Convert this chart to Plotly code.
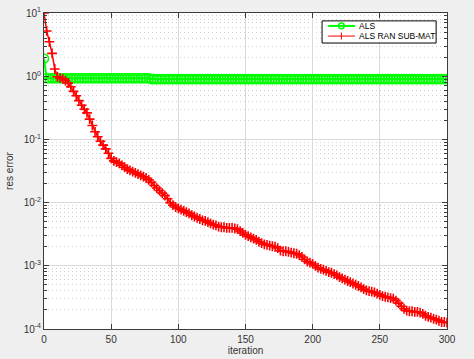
import plotly.graph_objects as go

# iterations sampled every 2 steps
iterations = list(range(0, 301, 2))

als_ran_submat = [
    10, 5.2, 3.5, 2.3, 1.3, 0.98, 0.93, 0.91, 0.85, 0.78,
    0.68, 0.575, 0.49, 0.41, 0.347, 0.30, 0.263, 0.209, 0.166, 0.132,
    0.110, 0.0933, 0.0813, 0.0708, 0.0603, 0.0501, 0.0457, 0.0437, 0.0417, 0.0389,
    0.0363, 0.0339, 0.0324, 0.0309, 0.0295, 0.0282, 0.0269, 0.0257, 0.0245, 0.0229,
    0.0209, 0.0186, 0.0170, 0.0155, 0.0141, 0.0129, 0.0115, 0.0100, 0.00912, 0.00851,
    0.00813, 0.00776, 0.00741, 0.00708, 0.00676, 0.00631, 0.00603, 0.00575, 0.00550, 0.00525,
    0.00513, 0.00490, 0.00468, 0.00447, 0.00437, 0.00417, 0.00407, 0.00407, 0.00398, 0.00398,
    0.00398, 0.00389, 0.00380, 0.00355, 0.00331, 0.00309, 0.00295, 0.00282, 0.00269, 0.00257,
    0.00240, 0.00229, 0.00219, 0.00214, 0.00209, 0.00204, 0.00200, 0.00191, 0.00174, 0.00170,
    0.00170, 0.00166, 0.00162, 0.00158, 0.00155, 0.00148, 0.00138, 0.00126, 0.00117, 0.00112,
    0.00107, 0.00100, 0.000933, 0.000891, 0.000871, 0.000832, 0.000794, 0.000776, 0.000741, 0.000708,
    0.000661, 0.000631, 0.000603, 0.000575, 0.000550, 0.000525, 0.000501, 0.000479, 0.000457, 0.000427,
    0.000407, 0.000398, 0.000389, 0.000380, 0.000363, 0.000347, 0.000331, 0.000324, 0.000316, 0.000309,
    0.000302, 0.000282, 0.000257, 0.000229, 0.000209, 0.000195, 0.000191, 0.000191, 0.000186, 0.000186,
    0.000182, 0.000174, 0.000162, 0.000155, 0.000151, 0.000145, 0.000141, 0.000135, 0.000129, 0.000129,
    0.000126,
]

als = [1.9] + [0.93] * 39 + [0.90] * 111

series_names = ["ALS", "ALS RAN SUB-MAT"]
series_colors = ["#00ff00", "#ff0000"]

x_ticks = [0, 50, 100, 150, 200, 250, 300]
y_ticks = [1e-4, 1e-3, 1e-2, 1e-1, 1, 10]
y_ticktext = ["10<sup>-4</sup>", "10<sup>-3</sup>", "10<sup>-2</sup>",
              "10<sup>-1</sup>", "10<sup>0</sup>", "10<sup>1</sup>"]

FONT = "Liberation Sans, Arial, sans-serif"

fig = go.Figure()
fig.add_trace(go.Scatter(
    x=iterations, y=als, name=series_names[0], mode="lines+markers",
    showlegend=False,
    line=dict(color=series_colors[0], width=2),
    marker=dict(symbol="circle-open", size=9, color=series_colors[0],
                line=dict(color=series_colors[0], width=1.6)),
))
fig.add_trace(go.Scatter(
    x=iterations, y=als_ran_submat, name=series_names[1], mode="lines+markers",
    showlegend=False,
    line=dict(color=series_colors[1], width=1.5),
    marker=dict(symbol="cross-thin", size=7, color=series_colors[1],
                line=dict(color=series_colors[1], width=1.6)),
))

axis_common = dict(
    showline=True, linecolor="#3c3c3c", linewidth=1, mirror="ticks",
    ticks="inside", ticklen=5, tickcolor="#3c3c3c",
    zeroline=False, gridcolor="#d9d9d9", gridwidth=1,
    automargin=False,
    tickfont=dict(family=FONT, size=10, color="#333333"),
)

fig.update_xaxes(
    range=[0, 300], tickvals=x_ticks, ticklabelstandoff=1,
    title=dict(text="iteration", standoff=0,
               font=dict(family=FONT, size=10, color="#333333")),
    **axis_common,
)
fig.update_yaxes(
    type="log", range=[-4, 1], tickvals=y_ticks, ticktext=y_ticktext,
    title=dict(text="res error", standoff=8,
               font=dict(family=FONT, size=10, color="#333333")),
    minor=dict(dtick="D1", showgrid=True, gridcolor="#d0d0d0", griddash="1px,3px",
               ticks="inside", ticklen=3, tickcolor="#3c3c3c"),
    **axis_common,
)

# legend box (drawn in paper coordinates, like the MATLAB legend)
shapes = [
    dict(type="rect", xref="paper", yref="paper", x0=0.690, x1=0.973, y0=0.905, y1=0.975,
         line=dict(color="#000000", width=1), fillcolor="#ffffff", layer="above"),
    dict(type="line", xref="paper", yref="paper", x0=0.705, x1=0.772, y0=0.959, y1=0.959,
         line=dict(color=series_colors[0], width=2), layer="above"),
    dict(type="circle", xref="paper", yref="paper", x0=0.731, x1=0.745, y0=0.950, y1=0.968,
         line=dict(color=series_colors[0], width=1.5), layer="above"),
    dict(type="line", xref="paper", yref="paper", x0=0.705, x1=0.772, y0=0.927, y1=0.927,
         line=dict(color=series_colors[1], width=1), layer="above"),
    dict(type="line", xref="paper", yref="paper", x0=0.738, x1=0.738, y0=0.916, y1=0.938,
         line=dict(color=series_colors[1], width=1), layer="above"),
]
annotations = [
    dict(text=series_names[0], xref="paper", yref="paper", x=0.776, y=0.959,
         xanchor="left", yanchor="middle", showarrow=False,
         font=dict(family=FONT, size=8.5, color="#000000")),
    dict(text=series_names[1], xref="paper", yref="paper", x=0.776, y=0.927,
         xanchor="left", yanchor="middle", showarrow=False,
         font=dict(family=FONT, size=8.5, color="#000000")),
]

fig.update_layout(
    width=474, height=359,
    margin=dict(l=44, r=27, t=13, b=30),
    paper_bgcolor="#efefef", plot_bgcolor="#ffffff",
    showlegend=False,
    shapes=shapes, annotations=annotations,
)

fig.write_html(
    "out.html",
    config={"displayModeBar": False},
    post_script="document.body.style.margin='0';document.body.style.overflow='hidden';",
)
